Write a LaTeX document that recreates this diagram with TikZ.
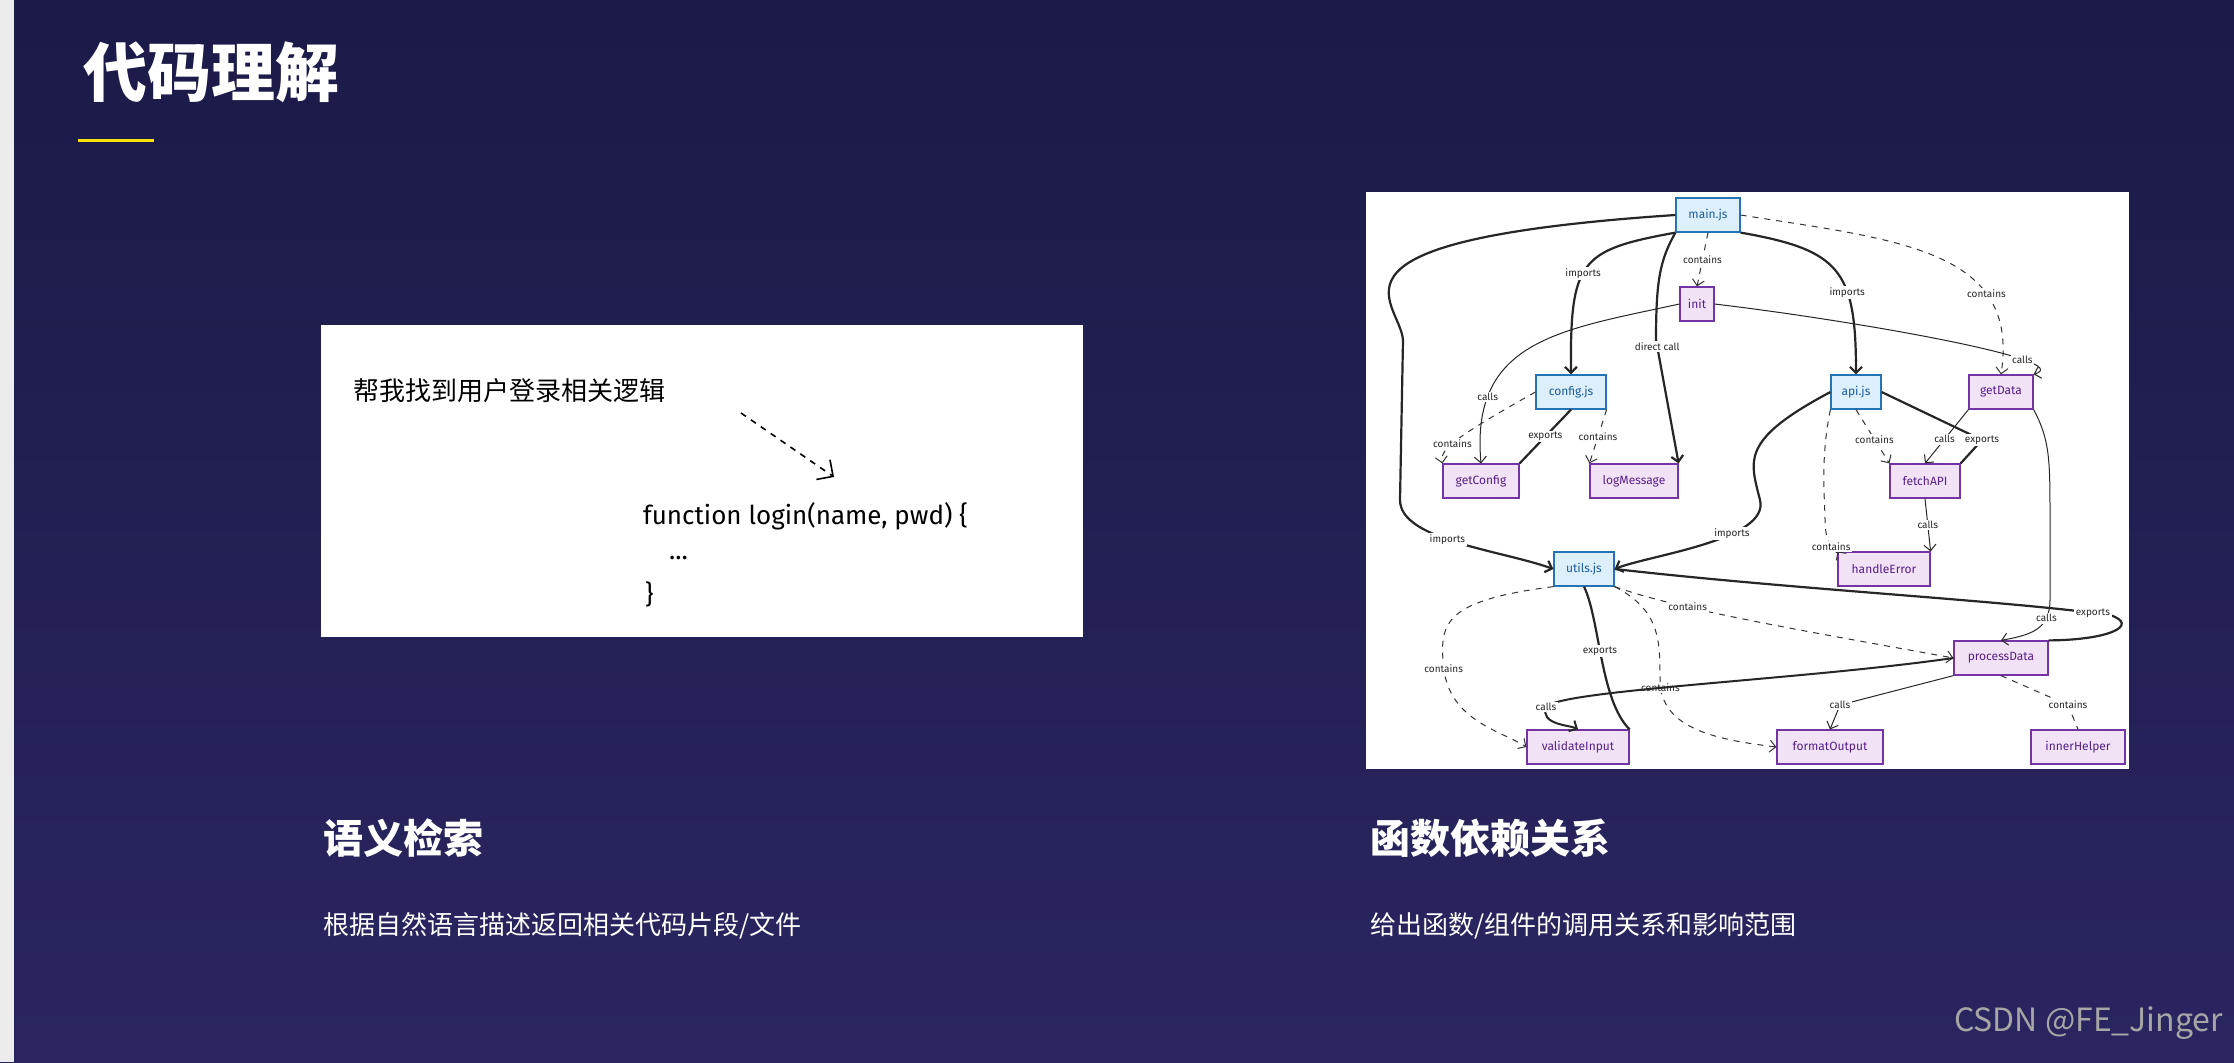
\documentclass[tikz,border=0pt]{standalone}
\usepackage{fontspec}
\setmainfont{Noto Sans CJK SC}
\setsansfont{Fira Sans}
\newfontfamily\cjk{Noto Sans CJK SC}
\usetikzlibrary{arrows.meta,positioning,shadings}
\definecolor{bgtop}{HTML}{1B1A48}
\definecolor{bgbot}{HTML}{2A2560}
\definecolor{bluefill}{HTML}{DCEFFB}
\definecolor{blueline}{HTML}{2373B5}
\definecolor{bluetext}{HTML}{1B5C9E}
\definecolor{purpfill}{HTML}{F1E2F6}
\definecolor{purpline}{HTML}{7434A6}
\definecolor{purptext}{HTML}{55208A}
\tikzset{
  filebox/.style={draw=blueline,fill=bluefill,text=bluetext,line width=0.6pt,minimum height=17pt,inner sep=2pt,font=\sffamily\fontsize{6}{7}\selectfont},
  funcbox/.style={draw=purpline,fill=purpfill,text=purptext,line width=0.6pt,minimum height=17pt,inner sep=2pt,font=\sffamily\fontsize{6}{7}\selectfont},
  lbl/.style={fill=white,inner sep=0.8pt,font=\sffamily\fontsize{5}{6}\selectfont,text=black!85},
  strong/.style={-{Straight Barb[length=3pt]},line width=1.1pt,black!85},
  weak/.style={-{Straight Barb[length=3pt]},line width=0.5pt,black!85},
  dashline/.style={-{Straight Barb[length=3pt]},line width=0.5pt,dashed,black!80},
  plain/.style={line width=1.1pt,black!85}
}
\begin{document}
\begin{tikzpicture}[x=0.5pt,y=-0.5pt]
    % background
    \shade[top color=bgtop,bottom color=bgbot] (0,0) rectangle (2234,1062);
    \fill[gray!15] (0,0) rectangle (14,1062);
    \useasboundingbox (0,0) rectangle (2234,1062);

    % title
    \node[anchor=west,text=white,font=\cjk\bfseries\fontsize{32}{36}\selectfont] (title) at (76,72) {代码理解};
    \draw[yellow!85!orange,line width=1.5pt] (78,140) -- (154,140);

    % left panel
    \fill[white] (321,325) rectangle (1083,637);
    \node[anchor=west,font=\cjk\fontsize{13}{15}\selectfont] (query) at (346,391) {帮我找到用户登录相关逻辑};
    \node[anchor=west,font=\sffamily\fontsize{13}{15}\selectfont] (code) at (636,516) {function login(name, pwd) \{};
    \node[anchor=west,font=\sffamily\fontsize{13}{15}\selectfont] (dots) at (662,558) {...};
    \node[anchor=west,font=\sffamily\fontsize{13}{15}\selectfont] (brace) at (638,594) {\}};
    \coordinate (qa) at (741,413);
    \coordinate (qb) at (834,477);
    \draw[dashed,line width=0.8pt,-{Straight Barb[length=6pt]}] (qa) -- (qb);

    % right panel
    \fill[white] (1366,192) rectangle (2129,769);
    \node[filebox,minimum width=32pt] (main) at (1708,215) {main.js};
    \node[funcbox,minimum width=17pt] (init) at (1697,304) {init};
    \node[filebox,minimum width=35pt] (config) at (1571,392) {config.js};
    \node[filebox,minimum width=25pt] (api) at (1856,392) {api.js};
    \node[funcbox,minimum width=32pt] (getdata) at (2001,392) {getData};
    \node[funcbox,minimum width=38pt] (getconfig) at (1481,481) {getConfig};
    \node[funcbox,minimum width=44pt] (logmsg) at (1634,481) {logMessage};
    \node[funcbox,minimum width=35pt] (fetchapi) at (1925,481) {fetchAPI};
    \node[funcbox,minimum width=46pt] (handleerr) at (1884,569) {handleError};
    \node[filebox,minimum width=30pt] (utils) at (1584,569) {utils.js};
    \node[funcbox,minimum width=47pt] (procdata) at (2001,658) {processData};
    \node[funcbox,minimum width=51pt] (validate) at (1578,747) {validateInput};
    \node[funcbox,minimum width=53pt] (format) at (1830,747) {formatOutput};
    \node[funcbox,minimum width=47pt] (inner) at (2078,747) {innerHelper};

    % edges from main.js
    \draw[strong] (main.west) .. controls (1300,240) and (1400,300) .. (1403,340) -- (1400,500) .. controls (1400,540) and (1500,550) .. (utils.west) node[lbl,pos=0.45] {imports};
    \draw[strong] (main.south west) .. controls (1580,250) and (1570,260) .. (config.north) node[lbl,pos=0.55] {imports};
    \draw[strong] (main.south west) .. controls (1660,260) and (1656,280) .. (1656,340) -- (logmsg.north east) node[lbl,pos=0.05] {direct call};
    \draw[dashline] (main.south) -- (init.north) node[lbl,midway] {contains};
    \draw[strong] (main.south east) .. controls (1840,250) and (1856,270) .. (api.north) node[lbl,pos=0.65] {imports};
    \draw[dashline] (main.east) .. controls (1900,240) and (2020,250) .. (getdata.north) node[lbl,pos=0.72] {contains};

    % init
    \draw[weak] (init.east) .. controls (1850,320) and (2080,360) .. (getdata.north east) node[lbl,pos=0.75] {calls};
    \draw[weak] (init.west) .. controls (1560,330) and (1470,340) .. (getconfig.north) node[lbl,pos=0.78] {calls};

    % config.js
    \draw[dashline] (config.west) .. controls (1450,440) and (1440,450) .. (getconfig.north west) node[lbl,pos=0.55] {contains};
    \draw[plain] (config.south) -- (getconfig.north east) node[lbl,midway] {exports};
    \draw[dashline] (config.south east) -- (logmsg.north west) node[lbl,midway] {contains};

    % api.js
    \draw[strong] (api.west) .. controls (1740,440) and (1750,460) .. (1760,500) .. controls (1770,540) and (1650,555) .. (utils.east) node[lbl,pos=0.35] {imports};
    \draw[dashline] (api.south west) .. controls (1820,460) and (1825,500) .. (1825,520) .. controls (1825,550) and (1840,555) .. (handleerr.north west) node[lbl,pos=0.45] {contains};
    \draw[dashline] (api.south) -- (fetchapi.north west) node[lbl,pos=0.55] {contains};
    \draw[plain] (api.east) -- (1982,440) node[lbl] {exports} -- (fetchapi.north east);

    % getData, fetchAPI
    \draw[weak] (getdata.south west) -- (fetchapi.north) node[lbl,pos=0.55] {calls};
    \draw[weak] (getdata.south east) .. controls (2050,440) and (2050,460) .. (2050,520) -- (2050,600) .. controls (2050,630) and (2030,635) .. (procdata.north) node[lbl,pos=0.25] {calls};
    \draw[weak] (fetchapi.south) -- (handleerr.north east) node[lbl,midway] {calls};

    % utils.js
    \draw[dashline] (utils.south east) .. controls (1680,610) and (1800,630) .. (procdata.west) node[lbl,pos=0.3] {contains};
    \draw[plain] (utils.east) .. controls (1800,590) and (2000,600) .. (2110,615) node[lbl,pos=0.95] {exports} .. controls (2140,625) and (2110,640) .. (procdata.north east);
    \draw[dashline] (utils.south west) .. controls (1450,600) and (1440,620) .. (1443,660) .. controls (1445,720) and (1500,730) .. (validate.west) node[lbl,pos=0.05] {contains};
    \draw[plain] (utils.south) .. controls (1600,620) and (1600,700) .. (validate.north east) node[lbl,pos=0.45] {exports};
    \draw[dashline] (utils.south east) .. controls (1660,610) and (1660,640) .. (1660,680) .. controls (1660,730) and (1720,740) .. (format.west) node[lbl,pos=0.05] {contains};

    % processData
    \draw[weak,line width=1pt] (procdata.west) .. controls (1800,680) and (1560,690) .. (1546,707) node[lbl] {calls} .. controls (1540,725) and (1570,725) .. (validate.north);
    \draw[weak] (procdata.south west) -- (1840,705) node[lbl] {calls} -- (format.north);
    \draw[dashline,-] (procdata.south) -- (2068,705) node[lbl] {contains} -- (inner.north);

    % captions
    \node[anchor=west,text=white,font=\cjk\bfseries\fontsize{20}{24}\selectfont] (cap1) at (316,838) {语义检索};
    \node[anchor=west,text=white,font=\cjk\fontsize{13}{16}\selectfont] (desc1) at (316,926) {根据自然语言描述返回相关代码片段/文件};
    \node[anchor=west,text=white,font=\cjk\bfseries\fontsize{20}{24}\selectfont] (cap2) at (1363,838) {函数依赖关系};
    \node[anchor=west,text=white,font=\cjk\fontsize{13}{16}\selectfont] (desc2) at (1363,926) {给出函数/组件的调用关系和影响范围};
    \node[anchor=east,text=gray!70,font=\fontsize{16}{18}\selectfont] (mark) at (2230,1023) {CSDN @FE\_Jinger};
\end{tikzpicture}
\end{document}
